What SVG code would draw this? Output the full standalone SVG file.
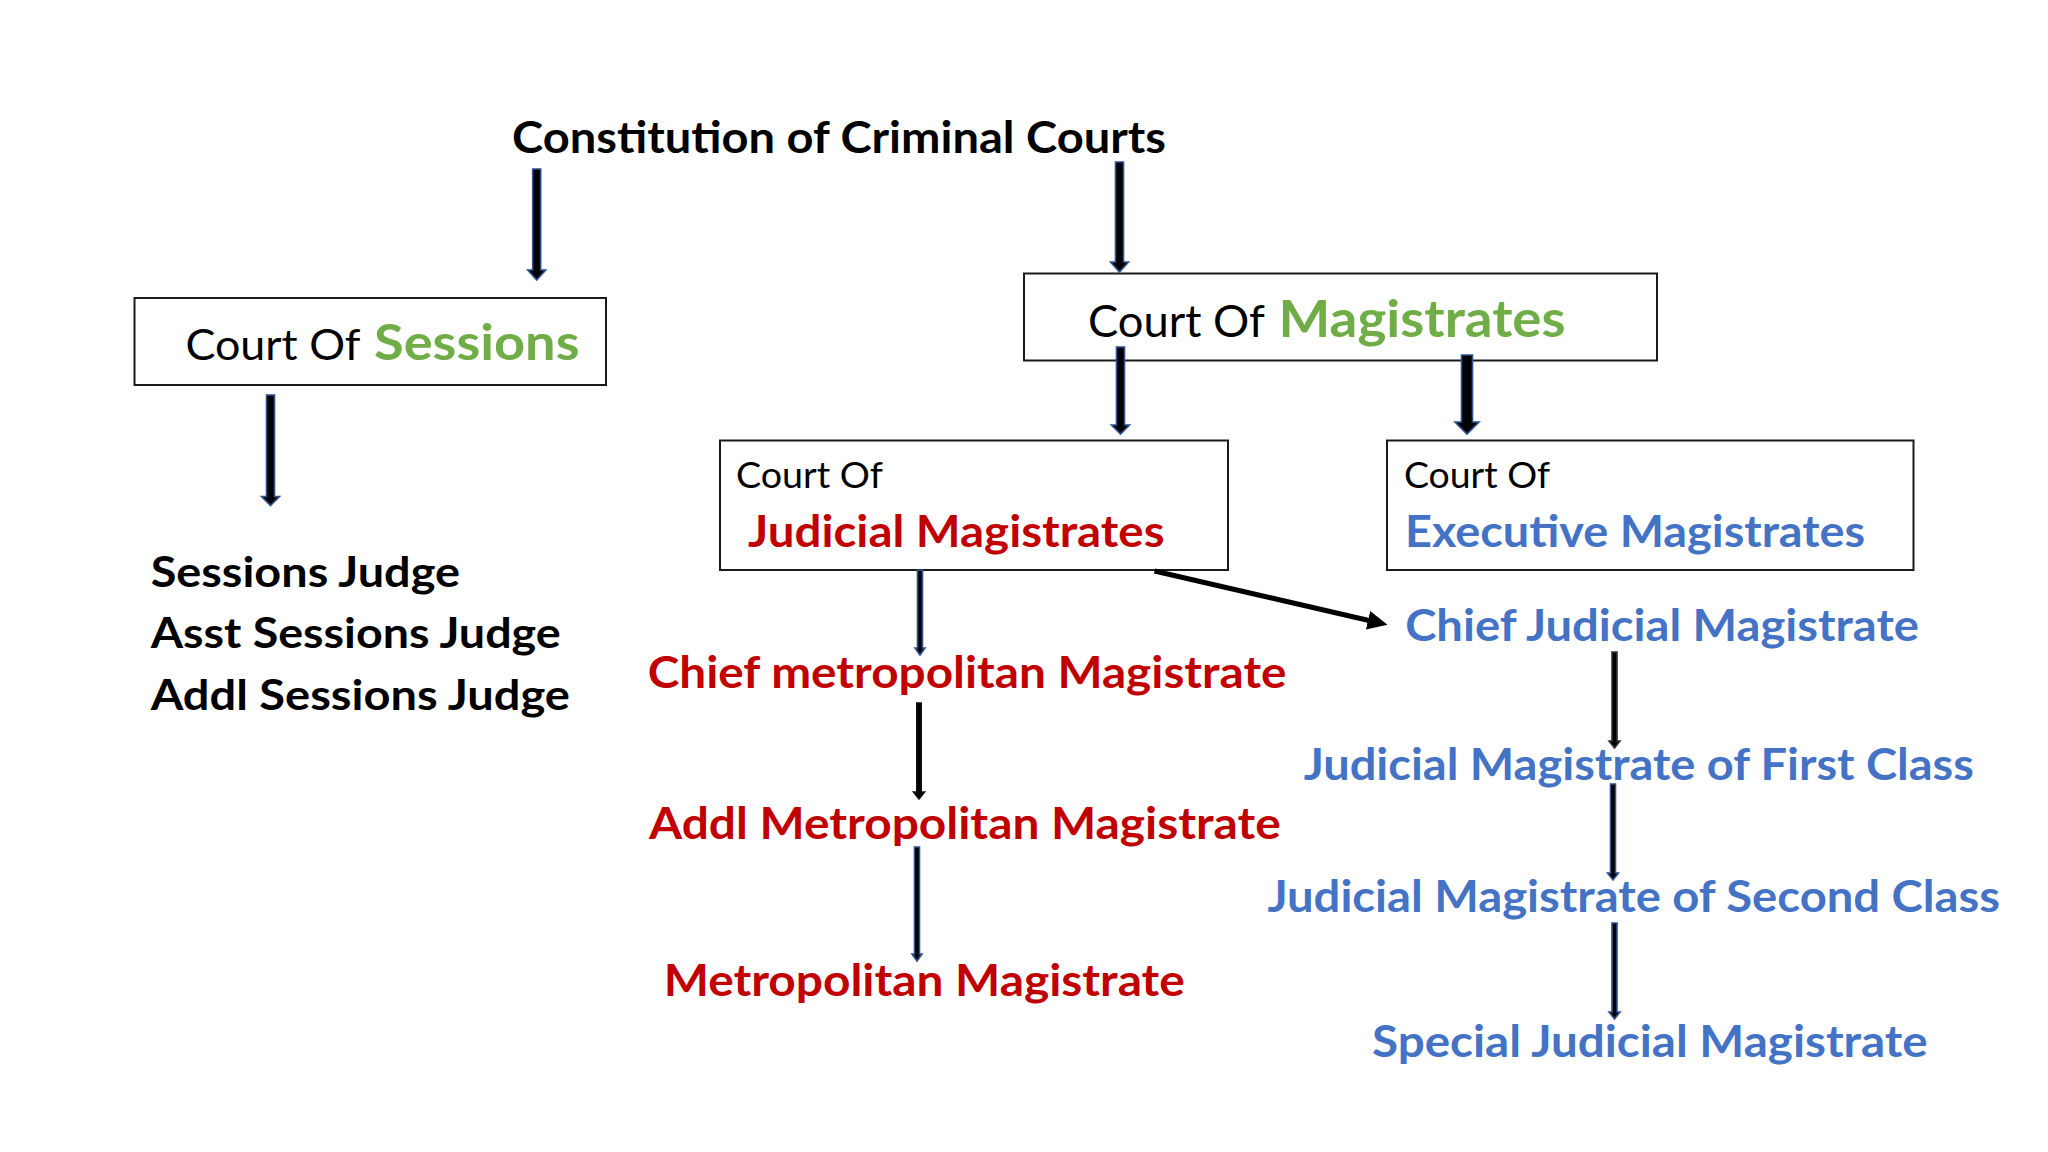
<svg xmlns="http://www.w3.org/2000/svg" width="2048" height="1152" viewBox="0 0 2048 1152">
<defs>
<style>
text{font-family:Lato,"Open Sans","Liberation Sans",sans-serif}
.b{font-weight:bold}
.r{font-weight:normal;fill:#000}
.blk{fill:#000}
.red{fill:#c00000}
.blue{fill:#4472c4}
.green{fill:#70ad47}
.box{fill:#fff;stroke:#1a1a1a;stroke-width:2}
.arr{fill:#000;stroke:#2f528f;stroke-width:1.6;stroke-linejoin:miter}
.diag{stroke:#000;stroke-width:5;fill:none}
</style>
<marker id="head" markerUnits="userSpaceOnUse" markerWidth="22" markerHeight="20" refX="1" refY="9.5" orient="auto">
<path d="M0,0 L20,9.5 L0,19 Z" fill="#000"/>
</marker>
</defs>
<rect width="2048" height="1152" fill="#fff"/>

<g id="title">
<text class="b blk" x="512" y="153" font-size="44" textLength="654" lengthAdjust="spacingAndGlyphs">Constitution of Criminal Courts</text>
</g>

<g id="court-of-sessions">
<rect class="box" x="134.5" y="298" width="471.5" height="87"/>
<text class="r" x="185.5" y="360" font-size="42" textLength="175" lengthAdjust="spacingAndGlyphs">Court Of</text>
<text class="b green" x="374" y="360" font-size="49" textLength="205.5" lengthAdjust="spacingAndGlyphs">Sessions</text>
</g>

<g id="court-of-magistrates">
<rect class="box" x="1024" y="273.5" width="633" height="87"/>
<text class="r" x="1088" y="336.7" font-size="44.6" textLength="177" lengthAdjust="spacingAndGlyphs">Court Of</text>
<text class="b green" x="1278.6" y="336.7" font-size="51.6" textLength="287" lengthAdjust="spacingAndGlyphs">Magistrates</text>
</g>

<g id="court-of-judicial-magistrates">
<rect class="box" x="720" y="440.5" width="508" height="129.5"/>
<text class="r" x="736" y="487.7" font-size="36" textLength="147" lengthAdjust="spacingAndGlyphs">Court Of</text>
<text class="b red" x="748" y="546.7" font-size="44" textLength="416.5" lengthAdjust="spacingAndGlyphs">Judicial Magistrates</text>
</g>

<g id="court-of-executive-magistrates">
<rect class="box" x="1387" y="440.5" width="526.5" height="129.5"/>
<text class="r" x="1404" y="487.7" font-size="36" textLength="146" lengthAdjust="spacingAndGlyphs">Court Of</text>
<text class="b blue" x="1405" y="546.7" font-size="44" textLength="460" lengthAdjust="spacingAndGlyphs">Executive Magistrates</text>
</g>

<g id="sessions-judges">
<text class="b blk" x="150.7" y="586.7" font-size="42" textLength="309.3" lengthAdjust="spacingAndGlyphs">Sessions Judge</text>
<text class="b blk" x="150.7" y="648.3" font-size="42" textLength="410" lengthAdjust="spacingAndGlyphs">Asst Sessions Judge</text>
<text class="b blk" x="150.7" y="710" font-size="42" textLength="419.3" lengthAdjust="spacingAndGlyphs">Addl Sessions Judge</text>
</g>

<g id="chief-metropolitan-magistrate">
<text class="b red" x="647.7" y="687.7" font-size="43" textLength="638.8" lengthAdjust="spacingAndGlyphs">Chief metropolitan Magistrate</text>
</g>
<g id="addl-metropolitan-magistrate">
<text class="b red" x="649" y="839.3" font-size="43" textLength="631.7" lengthAdjust="spacingAndGlyphs">Addl Metropolitan Magistrate</text>
</g>
<g id="metropolitan-magistrate">
<text class="b red" x="663.7" y="996" font-size="43" textLength="521" lengthAdjust="spacingAndGlyphs">Metropolitan Magistrate</text>
</g>

<g id="chief-judicial-magistrate">
<text class="b blue" x="1405.2" y="641" font-size="43" textLength="513.8" lengthAdjust="spacingAndGlyphs">Chief Judicial Magistrate</text>
</g>
<g id="jm-first-class">
<text class="b blue" x="1303.7" y="780" font-size="43" textLength="670.2" lengthAdjust="spacingAndGlyphs">Judicial Magistrate of First Class</text>
</g>
<g id="jm-second-class">
<text class="b blue" x="1267.4" y="912.3" font-size="43" textLength="732.6" lengthAdjust="spacingAndGlyphs">Judicial Magistrate of Second Class</text>
</g>
<g id="special-judicial-magistrate">
<text class="b blue" x="1372" y="1056.7" font-size="43" textLength="555.7" lengthAdjust="spacingAndGlyphs">Special Judicial Magistrate</text>
</g>

<g id="connectors">
<polygon class="arr" points="532.7,169 540.7,169 540.7,270 545.7,270 536.7,280 527.7,270 532.7,270"/>
<polygon class="arr" points="1115.5,162 1123.5,162 1123.5,262 1128.5,262 1119.5,272 1110.5,262 1115.5,262"/>
<polygon class="arr" points="266.5,395 274.5,395 274.5,496.5 279.5,496.5 270.5,505.5 261.5,496.5 266.5,496.5"/>
<polygon class="arr" points="1116.5,347 1124.5,347 1124.5,425 1129.5,425 1120.5,434 1111.5,425 1116.5,425"/>
<polygon class="arr" points="1461.5,355 1472.5,355 1472.5,422 1479,422 1467,434 1455,422 1461.5,422"/>
<polygon class="arr" points="917.5,570 922.5,570 922.5,648 925,648 920,655 915,648 917.5,648"/>
<polygon class="arr" points="916.8,703 921.2,703 921.2,792 924.5,792 919,799 913.5,792 916.8,792" style="stroke:#111"/>
<polygon class="arr" points="914.5,847 919.5,847 919.5,954 922,954 917,961 912,954 914.5,954"/>
<polygon class="arr" points="1612,652 1617,652 1617,741 1620,741 1614.5,748 1609,741 1612,741" style="stroke:#333"/>
<polygon class="arr" points="1610.5,784 1615.5,784 1615.5,873 1618.5,873 1613,880 1607.5,873 1610.5,873"/>
<polygon class="arr" points="1612,923 1617,923 1617,1012 1620,1012 1614.5,1019 1609,1012 1612,1012"/>
<line class="diag" x1="1154.5" y1="571" x2="1369" y2="620.5" marker-end="url(#head)"/>
</g>
</svg>
